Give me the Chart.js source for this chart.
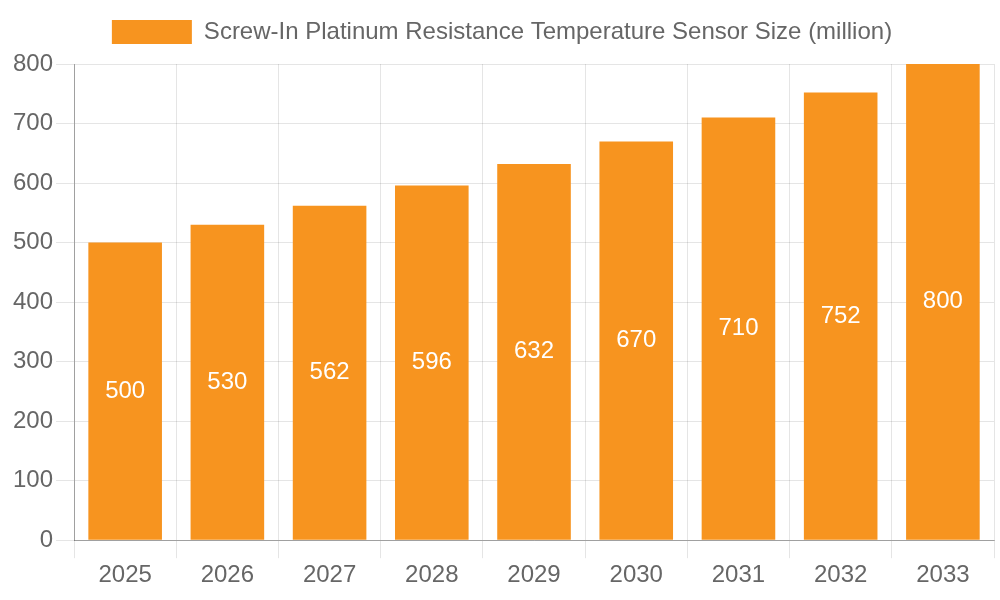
<!DOCTYPE html>
<html>
    <head>
        <title>Screw-In Platinum Resistance Temperature Sensor Size</title>
        <script src="https://cdn.jsdelivr.net/npm/chart.js"></script>
        <style>
         body { margin: 0; background: #fff; }
         #wrap { width: 1000px; height: 600px; position: relative; }
        </style>
    </head>
    <body>
        <div id="wrap"><canvas id="barChart"></canvas></div>
        <script>
        const years = ["2025", "2026", "2027", "2028", "2029", "2030", "2031", "2032", "2033"];
        const sizes = [500, 530, 562, 596, 632, 670, 710, 752, 800];
        const seriesName = "Screw-In Platinum Resistance Temperature Sensor Size (million)";

        // small stand-in for the datalabels plugin: value in the middle of each bar
        const barLabels = {
            id: 'barLabels',
            afterDatasetsDraw(chart) {
                const ctx = chart.ctx;
                const meta = chart.getDatasetMeta(0);
                ctx.save();
                ctx.fillStyle = '#fff';
                ctx.font = '24px "Liberation Sans", Arial, sans-serif';
                ctx.textAlign = 'center';
                ctx.textBaseline = 'middle';
                meta.data.forEach((bar, i) => {
                    const y = (bar.y + bar.base) / 2;
                    ctx.fillText(sizes[i], bar.x, y);
                });
                ctx.restore();
            }
        };

        // a bit more room under the legend
        const legendGap = {
            id: 'legendGap',
            beforeInit(chart) {
                const fit = chart.legend.fit;
                chart.legend.fit = function () {
                    fit.bind(chart.legend)();
                    this.height += 10;
                };
            }
        };

        Chart.defaults.font.family = '"Liberation Sans", Arial, sans-serif';
        Chart.defaults.font.size = 24;
        Chart.defaults.color = '#666';

        const ctx = document.getElementById('barChart').getContext('2d');
        new Chart(ctx, {
            type: 'bar',
            data: {
                labels: years,
                datasets: [{
                    label: seriesName,
                    data: sizes,
                    backgroundColor: '#F7941F',
                    borderWidth: 0
                }]
            },
            options: {
                responsive: true,
                maintainAspectRatio: false,
                animation: false,
                layout: { padding: { top: 10, left: 10, right: 6, bottom: 7 } },
                plugins: {
                    legend: {
                        labels: { boxWidth: 80, boxHeight: 24, padding: 10 }
                    },
                    tooltip: { enabled: false }
                },
                scales: {
                    x: {
                        grid: { color: 'rgba(0,0,0,0.1)', tickLength: 18 },
                        border: { color: 'rgba(0,0,0,0.3)' }
                    },
                    y: {
                        min: 0,
                        max: 800,
                        ticks: { stepSize: 100 },
                        grid: { color: 'rgba(0,0,0,0.1)', tickLength: 18 },
                        border: { color: 'rgba(0,0,0,0.3)' }
                    }
                }
            },
            plugins: [barLabels, legendGap]
        });
        </script>
    </body>
</html>
